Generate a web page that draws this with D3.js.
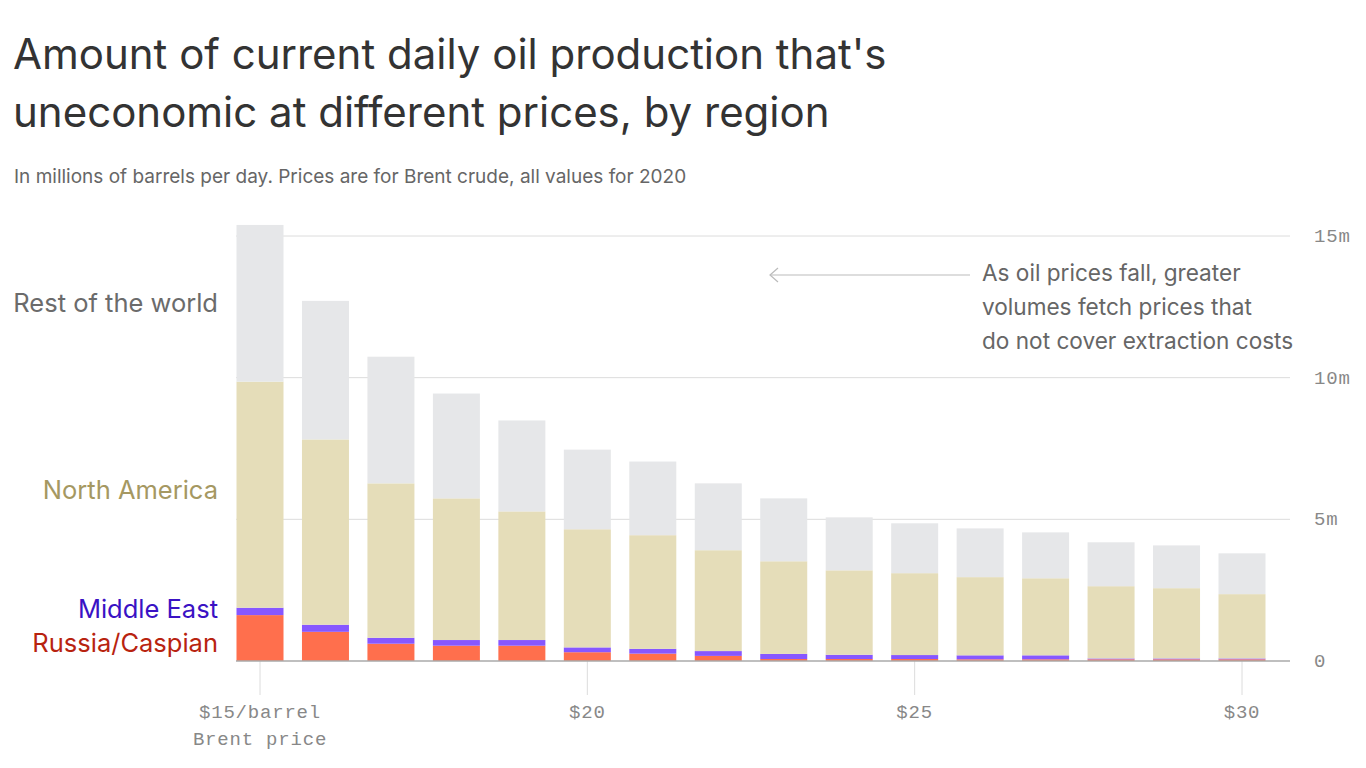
<!DOCTYPE html>
<html>
<head>
<meta charset="utf-8">
<script src="https://cdn.jsdelivr.net/npm/d3@7"></script>
<style>
body { margin: 0; background: #fff; }
svg { display: block; }
.mono { font-family: "Liberation Mono", "DejaVu Sans Mono", monospace; letter-spacing: 0.8px; }
</style>
</head>
<body>
<script>
var w = 1366, h = 768;

// prices in $/barrel (Brent)
var prices = [15, 16, 17, 18, 19, 20, 21, 22, 23, 24, 25, 26, 27, 28, 29, 30];
// millions of barrels per day, stacked bottom to top
var russia = [1.62, 1.03, 0.61, 0.54, 0.54, 0.31, 0.26, 0.18, 0.07, 0.07, 0.07, 0.06, 0.06, 0.06, 0.06, 0.06];
var middleEast = [0.26, 0.25, 0.21, 0.20, 0.20, 0.17, 0.17, 0.17, 0.18, 0.15, 0.14, 0.14, 0.14, 0.03, 0.03, 0.03];
var northAmerica = [7.98, 6.54, 5.45, 5.00, 4.54, 4.17, 4.01, 3.56, 3.27, 2.98, 2.89, 2.76, 2.72, 2.55, 2.48, 2.27];
var restOfWorld = [5.53, 4.89, 4.47, 3.70, 3.21, 2.81, 2.60, 2.36, 2.22, 1.87, 1.76, 1.72, 1.62, 1.55, 1.51, 1.44];

var regions = ["russia", "middleEast", "northAmerica", "rest"];
var regionNames = ["Russia/Caspian", "Middle East", "North America", "Rest of the world"];
var regionColors = ["#ff6f4d", "#8757ff", "#e5ddb9", "#e6e7e9"];
var labelColors = ["#b8230f", "#3a12c4", "#a59862", "#6b6b6b"];

var yTicks = [0, 5, 10, 15];
var yTickLabels = ["0", "5m", "10m", "15m"];
var xTicks = [15, 20, 25, 30];
var xTickLabels = ["$15/barrel", "$20", "$25", "$30"];

var table = prices.map(function(p, i) {
	return { price: p, russia: russia[i], middleEast: middleEast[i], northAmerica: northAmerica[i], rest: restOfWorld[i] };
});

var svg = d3.select("body").append("svg")
	.attr("width", w)
	.attr("height", h)
	.style("font-family", "Inter, sans-serif");

// title
svg.append("text").attr("x", 13).attr("y", 69)
	.attr("font-size", 42).attr("fill", "#333")
	.text("Amount of current daily oil production that's");
svg.append("text").attr("x", 13).attr("y", 127)
	.attr("font-size", 42).attr("fill", "#333")
	.text("uneconomic at different prices, by region");
svg.append("text").attr("x", 14).attr("y", 183)
	.attr("font-size", 19).attr("fill", "#666")
	.text("In millions of barrels per day. Prices are for Brent crude, all values for 2020");

var x = d3.scaleLinear().domain([15, 30]).range([260, 1242]);
var y = d3.scaleLinear().domain([0, 15]).range([661, 236]);
var barW = 47;

// gridlines
svg.append("g").selectAll("line")
	.data(yTicks.slice(1))
	.enter().append("line")
	.attr("x1", 236).attr("x2", 1290)
	.attr("y1", function(d) { return y(d); })
	.attr("y2", function(d) { return y(d); })
	.attr("stroke", "#dcdcdc").attr("stroke-width", 1);

// x tick marks
svg.append("g").selectAll("line")
	.data(xTicks)
	.enter().append("line")
	.attr("x1", function(d) { return x(d); })
	.attr("x2", function(d) { return x(d); })
	.attr("y1", 661).attr("y2", 695)
	.attr("stroke", "#dcdcdc");

var stack = d3.stack().keys(regions)(table);

svg.append("g").selectAll("g")
	.data(stack)
	.enter().append("g")
	.attr("fill", function(d, i) { return regionColors[i]; })
	.selectAll("rect")
	.data(function(d) { return d; })
	.enter().append("rect")
	.attr("x", function(d) { return x(d.data.price) - barW / 2; })
	.attr("width", barW)
	.attr("y", function(d) { return y(d[1]); })
	.attr("height", function(d) { return y(d[0]) - y(d[1]); });

// baseline
svg.append("line")
	.attr("x1", 236).attr("x2", 1290)
	.attr("y1", y(0)).attr("y2", y(0))
	.attr("stroke", "#aaa").attr("stroke-width", 1.5);

// y labels
svg.append("g").selectAll("text")
	.data(yTicks)
	.enter().append("text")
	.attr("class", "mono")
	.attr("x", 1314)
	.attr("y", function(d) { return y(d) + 6; })
	.attr("font-size", 19).attr("fill", "#888")
	.text(function(d, i) { return yTickLabels[i]; });

// x labels
svg.append("g").selectAll("text")
	.data(xTicks)
	.enter().append("text")
	.attr("class", "mono")
	.attr("x", function(d) { return x(d); })
	.attr("y", 718)
	.attr("text-anchor", "middle")
	.attr("font-size", 19).attr("fill", "#888")
	.text(function(d, i) { return xTickLabels[i]; });
svg.append("text").attr("class", "mono")
	.attr("x", x(15)).attr("y", 745)
	.attr("text-anchor", "middle")
	.attr("font-size", 19).attr("fill", "#888")
	.text("Brent price");

// region labels on the left
var labelY = [643, 609, 490, 303];
svg.append("g").selectAll("text")
	.data(regionNames)
	.enter().append("text")
	.attr("x", 218)
	.attr("y", function(d, i) { return labelY[i] + 9; })
	.attr("text-anchor", "end")
	.attr("font-size", 25.5)
	.attr("fill", function(d, i) { return labelColors[i]; })
	.text(function(d) { return d; });

// annotation
svg.append("line")
	.attr("x1", 770).attr("x2", 970)
	.attr("y1", 275).attr("y2", 275)
	.attr("stroke", "#bbb").attr("stroke-width", 1.2);
svg.append("path")
	.attr("d", "M778,268 L770,275 L778,282")
	.attr("fill", "none").attr("stroke", "#bbb").attr("stroke-width", 1.2);
var note = ["As oil prices fall, greater", "volumes fetch prices that", "do not cover extraction costs"];
svg.append("g").selectAll("text")
	.data(note)
	.enter().append("text")
	.attr("x", 982)
	.attr("y", function(d, i) { return 281 + i * 34; })
	.attr("font-size", 22.6).attr("fill", "#666")
	.text(function(d) { return d; });
</script>
</body>
</html>
